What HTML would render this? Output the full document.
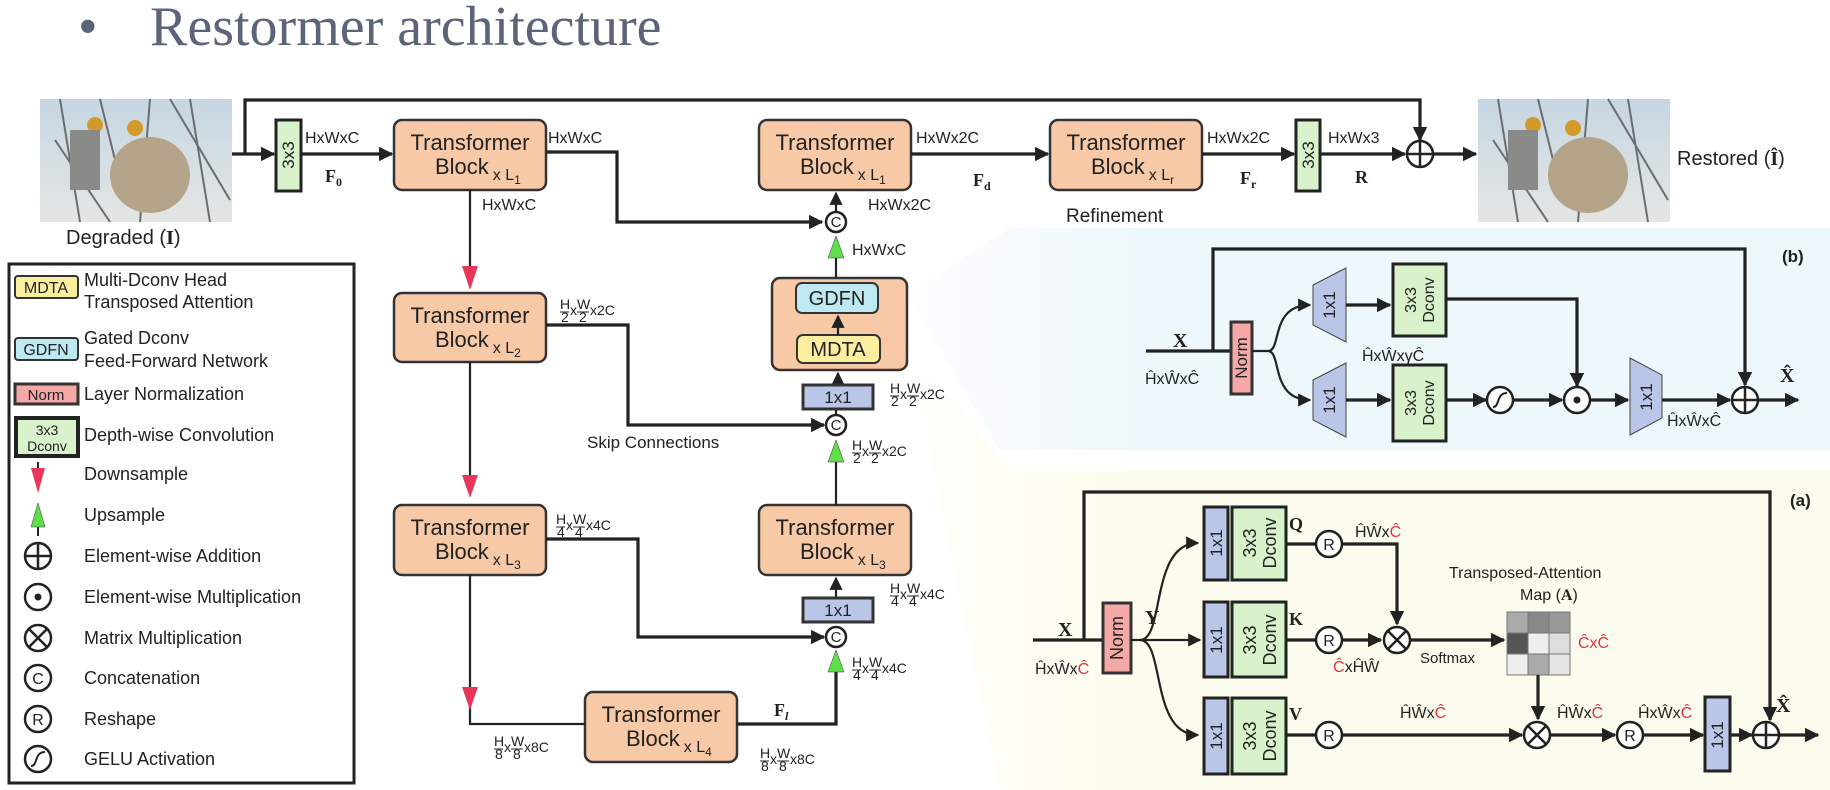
<!DOCTYPE html>
<html><head><meta charset="utf-8"><style>
html,body{margin:0;padding:0;background:#fff;}
svg{display:block;font-family:"Liberation Sans",sans-serif;}
.t{font-size:16px;fill:#222;}
.tb{font-size:22px;fill:#222;}
.b{fill:#f8c9a6;stroke:#333;stroke-width:2.5;}
.ln{stroke:#222;stroke-width:3.2;fill:none;}
.lt{stroke:#222;stroke-width:2.2;fill:none;}
.c{fill:#fff;stroke:#222;stroke-width:2.5;}
.serif{font-family:"Liberation Serif",serif;font-weight:bold;}
.red{fill:#e03040;}
</style></head><body>
<svg width="1830" height="790" viewBox="0 0 1830 790">
<defs>
<marker id="a" viewBox="0 0 10 10" refX="9" refY="5" markerWidth="4.5" markerHeight="4.5" orient="auto"><path d="M0,0L10,5L0,10z" fill="#222"/></marker>
<marker id="s" viewBox="0 0 10 10" refX="9" refY="5" markerWidth="6" markerHeight="6" orient="auto"><path d="M0,0L10,5L0,10z" fill="#222"/></marker>
<linearGradient id="sky" x1="0" y1="0" x2="0" y2="1"><stop offset="0" stop-color="#c6d6e2"/><stop offset="1" stop-color="#e4e6e4"/></linearGradient>
<linearGradient id="bg1" x1="0" y1="0" x2="1" y2="0"><stop offset="0" stop-color="#f4fafc" stop-opacity="0.3"/><stop offset="0.25" stop-color="#eef7fb"/><stop offset="1" stop-color="#eef7fb"/></linearGradient>
<linearGradient id="bg2" x1="0" y1="0" x2="1" y2="0"><stop offset="0" stop-color="#fdfdf0" stop-opacity="0.3"/><stop offset="0.25" stop-color="#fcfcee"/><stop offset="1" stop-color="#fcfcee"/></linearGradient>
</defs>

<polygon points="907,295 1010,228 1830,228 1830,450 1000,450" fill="url(#bg1)"/>
<polygon points="907,345 1010,470 1830,470 1830,790 1000,790" fill="url(#bg2)"/>

<text x="78" y="45" font-family="Liberation Serif,serif" font-size="56" fill="#5b6479">•</text>
<text x="150" y="45" font-family="Liberation Serif,serif" font-size="56" fill="#5b6479">Restormer architecture</text>

<g>
<rect x="40" y="99" width="192" height="123" fill="url(#sky)"/>
<path d="M60,99L80,222M100,99L120,180M150,99L140,222M190,99L210,222M170,99L230,200M55,140L110,222" stroke="#6a6e70" stroke-width="2" fill="none"/>
<ellipse cx="150" cy="175" rx="40" ry="38" fill="#b4a58a"/>
<circle cx="95" cy="125" r="8" fill="#d29a2a"/><circle cx="135" cy="128" r="8" fill="#d29a2a"/>
<rect x="70" y="130" width="30" height="60" fill="#8a8a88"/>
</g>
<g>
<rect x="1478" y="99" width="192" height="123" fill="url(#sky)"/>
<path d="M1498,99L1518,222M1538,99L1558,180M1588,99L1578,222M1628,99L1648,222M1608,99L1668,200M1493,140L1548,222" stroke="#6a6e70" stroke-width="2" fill="none"/>
<ellipse cx="1588" cy="175" rx="40" ry="38" fill="#b4a58a"/>
<circle cx="1533" cy="125" r="8" fill="#d29a2a"/><circle cx="1573" cy="128" r="8" fill="#d29a2a"/>
<rect x="1508" y="130" width="30" height="60" fill="#8a8a88"/>
</g>
<text x="66" y="244" font-size="20" fill="#222">Degraded (<tspan class="serif">I</tspan>)</text>
<text x="1677" y="165" font-size="20" fill="#222">Restored (<tspan class="serif">Î</tspan>)</text>

<path class="ln" d="M232,154H274" marker-end="url(#a)"/>
<path class="ln" d="M245,154V100H1420V140" marker-end="url(#a)"/>
<rect x="276" y="120" width="25" height="71" fill="#d8f2cc" stroke="#222" stroke-width="3"/>
<text transform="translate(294,155) rotate(-90)" text-anchor="middle" font-size="17" fill="#222">3x3</text>
<path class="ln" d="M301,154H392" marker-end="url(#a)"/>
<text x="305" y="143" class="t">HxWxC</text>
<text x="325" y="182" class="serif" font-size="18" fill="#222">F<tspan font-size="12" dy="4">0</tspan></text>

<g>
<rect class="b" x="394" y="120" width="152" height="70" rx="8"/>
<text x="470" y="150" class="tb" text-anchor="middle">Transformer</text>
<text x="435" y="174" class="tb">Block<tspan font-size="16" dx="4" dy="6">x L</tspan><tspan font-size="12" dy="4">1</tspan></text>
</g>
<g>
<rect class="b" x="759" y="120" width="152" height="70" rx="8"/>
<text x="835" y="150" class="tb" text-anchor="middle">Transformer</text>
<text x="800" y="174" class="tb">Block<tspan font-size="16" dx="4" dy="6">x L</tspan><tspan font-size="12" dy="4">1</tspan></text>
</g>
<g>
<rect class="b" x="1050" y="120" width="152" height="70" rx="8"/>
<text x="1126" y="150" class="tb" text-anchor="middle">Transformer</text>
<text x="1091" y="174" class="tb">Block<tspan font-size="16" dx="4" dy="6">x L</tspan><tspan font-size="12" dy="4">r</tspan></text>
</g>
<text x="1066" y="222" font-size="19" fill="#222">Refinement</text>
<g>
<rect class="b" x="394" y="293" width="152" height="69" rx="8"/>
<text x="470" y="323" class="tb" text-anchor="middle">Transformer</text>
<text x="435" y="347" class="tb">Block<tspan font-size="16" dx="4" dy="6">x L</tspan><tspan font-size="12" dy="4">2</tspan></text>
</g>
<g>
<rect class="b" x="394" y="505" width="152" height="70" rx="8"/>
<text x="470" y="535" class="tb" text-anchor="middle">Transformer</text>
<text x="435" y="559" class="tb">Block<tspan font-size="16" dx="4" dy="6">x L</tspan><tspan font-size="12" dy="4">3</tspan></text>
</g>
<g>
<rect class="b" x="759" y="505" width="152" height="70" rx="8"/>
<text x="835" y="535" class="tb" text-anchor="middle">Transformer</text>
<text x="800" y="559" class="tb">Block<tspan font-size="16" dx="4" dy="6">x L</tspan><tspan font-size="12" dy="4">3</tspan></text>
</g>
<g>
<rect class="b" x="585" y="692" width="152" height="70" rx="8"/>
<text x="661" y="722" class="tb" text-anchor="middle">Transformer</text>
<text x="626" y="746" class="tb">Block<tspan font-size="16" dx="4" dy="6">x L</tspan><tspan font-size="12" dy="4">4</tspan></text>
</g>

<path class="ln" d="M911,154H1048" marker-end="url(#a)"/>
<text x="916" y="143" class="t">HxWx2C</text>
<text x="973" y="186" class="serif" font-size="18" fill="#222">F<tspan font-size="12" dy="4">d</tspan></text>
<path class="ln" d="M1202,154H1294" marker-end="url(#a)"/>
<text x="1207" y="143" class="t">HxWx2C</text>
<text x="1240" y="184" class="serif" font-size="18" fill="#222">F<tspan font-size="12" dy="4">r</tspan></text>
<rect x="1296" y="120" width="24" height="71" fill="#d8f2cc" stroke="#222" stroke-width="3"/>
<text transform="translate(1314,155) rotate(-90)" text-anchor="middle" font-size="17" fill="#222">3x3</text>
<path class="ln" d="M1320,154H1405" marker-end="url(#a)"/>
<text x="1328" y="143" class="t">HxWx3</text>
<text x="1355" y="183" class="serif" font-size="18" fill="#222">R</text>
<circle class="c" cx="1420" cy="154" r="13"/><path d="M1407,154H1433M1420,141V167" stroke="#222" stroke-width="2.5"/>
<path class="ln" d="M1433,154H1476" marker-end="url(#a)"/>

<path class="ln" d="M546,152H617V222H822" marker-end="url(#a)"/>
<text x="548" y="143" class="t">HxWxC</text>
<text x="482" y="210" class="t">HxWxC</text>
<path class="lt" d="M470,190V275M470,362V485M470,575V724H585"/>
<polygon points="462,266 478,266 470,290" fill="#e8385a"/>
<polygon points="462,475 478,475 470,498" fill="#e8385a"/>
<polygon points="462,687 478,687 470,710" fill="#e8385a"/>

<g font-size="15" text-anchor="middle" fill="#222">
<circle class="c" cx="836" cy="222" r="10"/><text x="836" y="227">C</text>
<circle class="c" cx="836" cy="425" r="10"/><text x="836" y="430">C</text>
<circle class="c" cx="836" cy="637" r="10"/><text x="836" y="642">C</text>
</g>
<path class="lt" d="M836,212V193" marker-end="url(#s)"/>
<text x="868" y="210" class="t">HxWx2C</text>
<path class="lt" d="M836,278V258"/>
<polygon points="828,258 844,258 836,236" fill="#5fe04a" stroke="#333" stroke-width="0.5"/>
<text x="852" y="255" class="t">HxWxC</text>
<rect x="772" y="278" width="135" height="92" rx="8" fill="#f8c9a6" stroke="#333" stroke-width="2.5"/>
<rect x="796" y="283" width="82" height="30" rx="6" fill="#bfe9f2" stroke="#333" stroke-width="2"/>
<text x="837" y="305" text-anchor="middle" font-size="20" fill="#222">GDFN</text>
<rect x="797" y="335" width="83" height="28" rx="6" fill="#fbef9f" stroke="#333" stroke-width="2"/>
<text x="838" y="356" text-anchor="middle" font-size="20" fill="#222">MDTA</text>
<path class="lt" d="M838,335V316" marker-end="url(#s)"/>
<path class="lt" d="M838,385V373" marker-end="url(#s)"/>
<rect x="803" y="385" width="70" height="24" fill="#b9c6e8" stroke="#333" stroke-width="3"/>
<text x="838" y="403" text-anchor="middle" font-size="17" fill="#222">1x1</text>
<path class="lt" d="M836,415V410"/>
<path class="ln" d="M546,325H628V425H824" marker-end="url(#a)"/>
<text x="587" y="448" font-size="17" fill="#222">Skip Connections</text>
<path class="lt" d="M836,505V458"/>
<polygon points="828,462 844,462 836,440" fill="#5fe04a" stroke="#333" stroke-width="0.5"/>
<path class="ln" d="M546,539H638V637H824" marker-end="url(#a)"/>
<path class="lt" d="M836,598V578" marker-end="url(#s)"/>
<rect x="803" y="598" width="70" height="24" fill="#b9c6e8" stroke="#333" stroke-width="3"/>
<text x="838" y="616" text-anchor="middle" font-size="17" fill="#222">1x1</text>
<path class="ln" d="M737,724H836V672"/>
<polygon points="828,672 844,672 836,650" fill="#5fe04a" stroke="#333" stroke-width="0.5"/>
<text x="774" y="716" class="serif" font-size="18" fill="#222">F<tspan font-size="12" dy="4" font-style="italic">l</tspan></text>

<g font-size="14" fill="#222">
<g transform="translate(560,312)"><text x="0" y="-3">H</text><text x="1" y="10">2</text><path d="M0,0H9" stroke="#222"/><text x="10" y="3">x</text><text x="17" y="-3">W</text><text x="19" y="10">2</text><path d="M17,0H29" stroke="#222"/><text x="30" y="3">x2C</text></g>
<g transform="translate(556,527)"><text x="0" y="-3">H</text><text x="1" y="10">4</text><path d="M0,0H9" stroke="#222"/><text x="10" y="3">x</text><text x="17" y="-3">W</text><text x="19" y="10">4</text><path d="M17,0H29" stroke="#222"/><text x="30" y="3">x4C</text></g>
<g transform="translate(494,749)"><text x="0" y="-3">H</text><text x="1" y="10">8</text><path d="M0,0H9" stroke="#222"/><text x="10" y="3">x</text><text x="17" y="-3">W</text><text x="19" y="10">8</text><path d="M17,0H29" stroke="#222"/><text x="30" y="3">x8C</text></g>
<g transform="translate(760,761)"><text x="0" y="-3">H</text><text x="1" y="10">8</text><path d="M0,0H9" stroke="#222"/><text x="10" y="3">x</text><text x="17" y="-3">W</text><text x="19" y="10">8</text><path d="M17,0H29" stroke="#222"/><text x="30" y="3">x8C</text></g>
<g transform="translate(852,670)"><text x="0" y="-3">H</text><text x="1" y="10">4</text><path d="M0,0H9" stroke="#222"/><text x="10" y="3">x</text><text x="17" y="-3">W</text><text x="19" y="10">4</text><path d="M17,0H29" stroke="#222"/><text x="30" y="3">x4C</text></g>
<g transform="translate(890,596)"><text x="0" y="-3">H</text><text x="1" y="10">4</text><path d="M0,0H9" stroke="#222"/><text x="10" y="3">x</text><text x="17" y="-3">W</text><text x="19" y="10">4</text><path d="M17,0H29" stroke="#222"/><text x="30" y="3">x4C</text></g>
<g transform="translate(852,453)"><text x="0" y="-3">H</text><text x="1" y="10">2</text><path d="M0,0H9" stroke="#222"/><text x="10" y="3">x</text><text x="17" y="-3">W</text><text x="19" y="10">2</text><path d="M17,0H29" stroke="#222"/><text x="30" y="3">x2C</text></g>
<g transform="translate(890,396)"><text x="0" y="-3">H</text><text x="1" y="10">2</text><path d="M0,0H9" stroke="#222"/><text x="10" y="3">x</text><text x="17" y="-3">W</text><text x="19" y="10">2</text><path d="M17,0H29" stroke="#222"/><text x="30" y="3">x2C</text></g>
</g>

<rect x="9" y="264" width="345" height="519" fill="#fff" stroke="#222" stroke-width="3"/>
<g font-size="18" fill="#222">
<rect x="15" y="276" width="63" height="22" rx="3" fill="#fbef9f" stroke="#333" stroke-width="2"/>
<text x="46" y="293" text-anchor="middle" font-size="16">MDTA</text>
<text x="84" y="286">Multi-Dconv Head</text><text x="84" y="308">Transposed Attention</text>
<rect x="15" y="338" width="63" height="22" rx="3" fill="#bfe9f2" stroke="#333" stroke-width="2"/>
<text x="46" y="355" text-anchor="middle" font-size="16">GDFN</text>
<text x="84" y="344">Gated Dconv</text><text x="84" y="367">Feed-Forward Network</text>
<rect x="15" y="384" width="63" height="20" fill="#f4a9a6" stroke="#333" stroke-width="3"/>
<text x="46" y="400" text-anchor="middle" font-size="15">Norm</text>
<text x="84" y="400">Layer Normalization</text>
<rect x="16" y="418" width="62" height="38" fill="#d8f2cc" stroke="#222" stroke-width="4"/>
<text x="47" y="435" text-anchor="middle" font-size="14">3x3</text><text x="47" y="451" text-anchor="middle" font-size="14">Dconv</text>
<text x="84" y="441">Depth-wise Convolution</text>
<path d="M38,462V470" stroke="#222" stroke-width="2"/><polygon points="31,468 45,468 38,493" fill="#e8385a"/>
<text x="84" y="480">Downsample</text>
<polygon points="31,527 45,527 38,503" fill="#5fe04a" stroke="#333" stroke-width="0.5"/><path d="M38,527V536" stroke="#222" stroke-width="2"/>
<text x="84" y="521">Upsample</text>
<circle class="c" cx="38" cy="556" r="13"/><path d="M25,556H51M38,543V569" stroke="#222" stroke-width="2.5"/>
<text x="84" y="562">Element-wise Addition</text>
<circle class="c" cx="38" cy="597" r="13"/><circle cx="38" cy="597" r="3.5" fill="#222"/>
<text x="84" y="603">Element-wise Multiplication</text>
<circle class="c" cx="38" cy="638" r="13"/><path d="M29,629L47,647M47,629L29,647" stroke="#222" stroke-width="2.5"/>
<text x="84" y="644">Matrix Multiplication</text>
<circle class="c" cx="38" cy="678" r="13"/><text x="38" y="684" text-anchor="middle" font-size="16">C</text>
<text x="84" y="684">Concatenation</text>
<circle class="c" cx="38" cy="719" r="13"/><text x="38" y="725" text-anchor="middle" font-size="16">R</text>
<text x="84" y="725">Reshape</text>
<circle class="c" cx="38" cy="759" r="13"/><path d="M31,766C38,766 34,752 45,752" stroke="#222" stroke-width="2" fill="none"/>
<text x="84" y="765">GELU Activation</text>
</g>

<text x="1782" y="262" font-size="17" font-weight="bold" fill="#222">(b)</text>
<path class="ln" d="M1146,351H1230"/>
<path class="ln" d="M1213,351V249H1745V385" marker-end="url(#a)"/>
<text x="1173" y="347" class="serif" font-size="20" fill="#222">X</text>
<text x="1145" y="384" class="t">ĤxŴxĈ</text>
<rect x="1231" y="322" width="21" height="72" fill="#f4a9a6" stroke="#333" stroke-width="3"/>
<text transform="translate(1247,358) rotate(-90)" text-anchor="middle" font-size="17" fill="#222">Norm</text>
<path class="lt" d="M1252,351H1268C1282,351 1270,305 1310,305" marker-end="url(#s)"/>
<path class="lt" d="M1268,351C1282,351 1270,400 1310,400" marker-end="url(#s)"/>
<polygon points="1313,285 1346,268 1346,342 1313,325" fill="#b9c6e8" stroke="#444" stroke-width="1"/>
<text transform="translate(1335,305) rotate(-90)" text-anchor="middle" font-size="17" fill="#222">1x1</text>
<polygon points="1313,380 1346,363 1346,437 1313,420" fill="#b9c6e8" stroke="#444" stroke-width="1"/>
<text transform="translate(1335,400) rotate(-90)" text-anchor="middle" font-size="17" fill="#222">1x1</text>
<path class="ln" d="M1346,305H1390" marker-end="url(#a)"/>
<path class="ln" d="M1346,400H1390" marker-end="url(#a)"/>
<rect x="1393" y="264" width="53" height="72" fill="#d8f2cc" stroke="#222" stroke-width="3"/>
<text transform="translate(1416,300) rotate(-90)" text-anchor="middle" font-size="16" fill="#222">3x3</text>
<text transform="translate(1434,300) rotate(-90)" text-anchor="middle" font-size="16" fill="#222">Dconv</text>
<rect x="1393" y="365" width="53" height="76" fill="#d8f2cc" stroke="#222" stroke-width="3"/>
<text transform="translate(1416,403) rotate(-90)" text-anchor="middle" font-size="16" fill="#222">3x3</text>
<text transform="translate(1434,403) rotate(-90)" text-anchor="middle" font-size="16" fill="#222">Dconv</text>
<text x="1362" y="361" class="t">ĤxŴxγĈ</text>
<path class="ln" d="M1446,299H1577V386" marker-end="url(#a)"/>
<path class="ln" d="M1446,400H1486" marker-end="url(#a)"/>
<circle class="c" cx="1500" cy="400" r="13"/><path d="M1493,407C1500,407 1496,393 1507,393" stroke="#222" stroke-width="2" fill="none"/>
<path class="ln" d="M1513,400H1562" marker-end="url(#a)"/>
<circle class="c" cx="1577" cy="400" r="13"/><circle cx="1577" cy="400" r="3.5" fill="#222"/>
<path class="ln" d="M1590,400H1628" marker-end="url(#a)"/>
<polygon points="1630,358 1662,375 1662,418 1630,435" fill="#b9c6e8" stroke="#444" stroke-width="1"/>
<text transform="translate(1652,397) rotate(-90)" text-anchor="middle" font-size="17" fill="#222">1x1</text>
<path class="ln" d="M1662,400H1730" marker-end="url(#a)"/>
<text x="1667" y="426" class="t">ĤxŴxĈ</text>
<circle class="c" cx="1745" cy="400" r="13"/><path d="M1732,400H1758M1745,387V413" stroke="#222" stroke-width="2.5"/>
<path class="ln" d="M1758,400H1798" marker-end="url(#a)"/>
<text x="1780" y="382" class="serif" font-size="20" fill="#222">X̂</text>

<text x="1790" y="506" font-size="17" font-weight="bold" fill="#222">(a)</text>
<path class="ln" d="M1033,640H1103"/>
<path class="ln" d="M1084,640V492H1770V720" marker-end="url(#a)"/>
<text x="1058" y="636" class="serif" font-size="20" fill="#222">X</text>
<text x="1035" y="674" class="t">ĤxŴx<tspan class="red">Ĉ</tspan></text>
<rect x="1103" y="603" width="28" height="70" fill="#f4a9a6" stroke="#333" stroke-width="3"/>
<text transform="translate(1123,638) rotate(-90)" text-anchor="middle" font-size="18" fill="#222">Norm</text>
<text x="1145" y="624" class="serif" font-size="20" fill="#222">Y</text>
<path class="lt" d="M1131,640H1200" marker-end="url(#s)"/>
<path class="lt" d="M1140,640C1165,640 1150,543 1198,543" marker-end="url(#s)"/>
<path class="lt" d="M1140,640C1165,640 1150,735 1198,735" marker-end="url(#s)"/>
<g>
<rect x="1204" y="507" width="24" height="73" fill="#b9c6e8" stroke="#222" stroke-width="3"/>
<text transform="translate(1222,543) rotate(-90)" text-anchor="middle" font-size="17" fill="#222">1x1</text>
<rect x="1232" y="507" width="54" height="73" fill="#d8f2cc" stroke="#222" stroke-width="3"/>
<text transform="translate(1256,543) rotate(-90)" text-anchor="middle" font-size="18" fill="#222">3x3</text>
<text transform="translate(1276,543) rotate(-90)" text-anchor="middle" font-size="18" fill="#222">Dconv</text>
</g>
<g>
<rect x="1204" y="602" width="24" height="75" fill="#b9c6e8" stroke="#222" stroke-width="3"/>
<text transform="translate(1222,640) rotate(-90)" text-anchor="middle" font-size="17" fill="#222">1x1</text>
<rect x="1232" y="602" width="54" height="75" fill="#d8f2cc" stroke="#222" stroke-width="3"/>
<text transform="translate(1256,640) rotate(-90)" text-anchor="middle" font-size="18" fill="#222">3x3</text>
<text transform="translate(1276,640) rotate(-90)" text-anchor="middle" font-size="18" fill="#222">Dconv</text>
</g>
<g>
<rect x="1204" y="698" width="24" height="76" fill="#b9c6e8" stroke="#222" stroke-width="3"/>
<text transform="translate(1222,736) rotate(-90)" text-anchor="middle" font-size="17" fill="#222">1x1</text>
<rect x="1232" y="698" width="54" height="76" fill="#d8f2cc" stroke="#222" stroke-width="3"/>
<text transform="translate(1256,736) rotate(-90)" text-anchor="middle" font-size="18" fill="#222">3x3</text>
<text transform="translate(1276,736) rotate(-90)" text-anchor="middle" font-size="18" fill="#222">Dconv</text>
</g>
<g class="serif" font-size="18" fill="#222"><text x="1289" y="530">Q</text><text x="1289" y="625">K</text><text x="1289" y="720">V</text></g>
<g font-size="16" text-anchor="middle" fill="#222">
<path class="ln" d="M1286,544H1316M1286,640H1316M1286,735H1316"/>
<circle class="c" cx="1329" cy="544" r="13"/><text x="1329" y="550">R</text>
<circle class="c" cx="1329" cy="640" r="13"/><text x="1329" y="646">R</text>
<circle class="c" cx="1329" cy="735" r="13"/><text x="1329" y="741">R</text>
</g>
<path class="ln" d="M1342,544H1397V624" marker-end="url(#a)"/>
<text x="1355" y="537" class="t">ĤŴx<tspan class="red">Ĉ</tspan></text>
<path class="ln" d="M1342,640H1381" marker-end="url(#a)"/>
<text x="1333" y="672" class="t"><tspan class="red">Ĉ</tspan>xĤŴ</text>
<circle class="c" cx="1397" cy="640" r="13"/><path d="M1388,631L1406,649M1406,631L1388,649" stroke="#222" stroke-width="2.5"/>
<path class="ln" d="M1410,640H1504" marker-end="url(#a)"/>
<text x="1420" y="663" font-size="15" fill="#222">Softmax</text>
<text x="1449" y="578" font-size="16" fill="#222">Transposed-Attention</text>
<text x="1520" y="600" font-size="16" fill="#222">Map (<tspan class="serif">A</tspan>)</text>
<g stroke="#777" stroke-width="1">
<rect x="1507" y="612" width="21" height="21" fill="#aaa"/><rect x="1528" y="612" width="21" height="21" fill="#888"/><rect x="1549" y="612" width="21" height="21" fill="#999"/>
<rect x="1507" y="633" width="21" height="21" fill="#555"/><rect x="1528" y="633" width="21" height="21" fill="#eee"/><rect x="1549" y="633" width="21" height="21" fill="#ddd"/>
<rect x="1507" y="654" width="21" height="21" fill="#eee"/><rect x="1528" y="654" width="21" height="21" fill="#aaa"/><rect x="1549" y="654" width="21" height="21" fill="#e4e4e4"/>
</g>
<text x="1578" y="648" class="t red">ĈxĈ</text>
<path class="ln" d="M1538,675V719" marker-end="url(#a)"/>
<path class="ln" d="M1342,735H1522" marker-end="url(#a)"/>
<text x="1400" y="718" class="t">ĤŴx<tspan class="red">Ĉ</tspan></text>
<circle class="c" cx="1537" cy="735" r="13"/><path d="M1528,726L1546,744M1546,726L1528,744" stroke="#222" stroke-width="2.5"/>
<path class="ln" d="M1550,735H1615" marker-end="url(#a)"/>
<text x="1557" y="718" class="t">ĤŴx<tspan class="red">Ĉ</tspan></text>
<circle class="c" cx="1630" cy="735" r="13"/><text x="1630" y="741" text-anchor="middle" font-size="16" fill="#222">R</text>
<path class="ln" d="M1643,735H1703" marker-end="url(#a)"/>
<text x="1638" y="718" class="t">ĤxŴx<tspan class="red">Ĉ</tspan></text>
<rect x="1705" y="697" width="25" height="74" fill="#b9c6e8" stroke="#222" stroke-width="3"/>
<text transform="translate(1723,735) rotate(-90)" text-anchor="middle" font-size="17" fill="#222">1x1</text>
<path class="ln" d="M1730,735H1752" marker-end="url(#a)"/>
<circle class="c" cx="1766" cy="735" r="13"/><path d="M1753,735H1779M1766,722V748" stroke="#222" stroke-width="2.5"/>
<path class="ln" d="M1779,735H1818" marker-end="url(#a)"/>
<text x="1776" y="712" class="serif" font-size="20" fill="#222">X̂</text>
</svg>
</body></html>
